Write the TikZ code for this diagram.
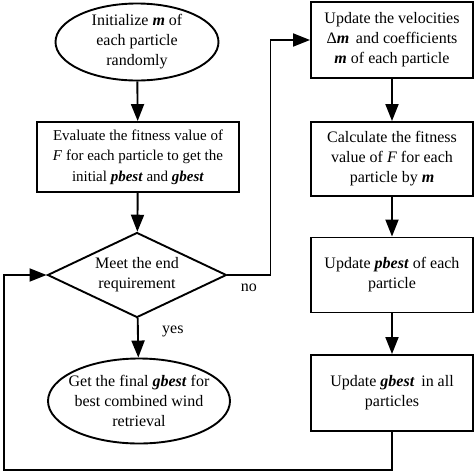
\documentclass[tikz,border=0pt]{standalone}
\usepackage{fontspec}
\setmainfont{Liberation Serif}
\usetikzlibrary{shapes.geometric,arrows.meta}
\newcommand{\bi}[1]{\textbf{\textit{#1}}}
\tikzset{
  base/.style={draw, line width=1.9pt, align=center, font=\fontsize{16}{20}\selectfont},
  proc/.style={base, rectangle, inner sep=0pt},
  oval/.style={base, ellipse, inner sep=-13pt},
  test/.style={base, diamond, aspect=2.1, inner sep=0pt},
  arr/.style={line width=1.9pt, -{Triangle[length=17pt,width=13pt]}},
  lbl/.style={font=\fontsize{16}{20}\selectfont}
}
\begin{document}
\begin{tikzpicture}[x=1pt,y=-1pt]
\useasboundingbox (0,0) rectangle (474,472);
\node[oval, minimum width=163pt, minimum height=77pt] (init) at (137,42) {Initialize \bi{m} of\\each particle\\randomly};
\node[proc, minimum width=202pt, minimum height=70pt, font=\fontsize{15}{20.5}\selectfont] (eval) at (138,157) {Evaluate the fitness value of\\\textit{F} for each particle to get the\\initial \bi{pbest} and \bi{gbest}};
\node[test, minimum width=179pt, minimum height=85pt] (meet) at (137,275) {Meet the end\\requirement};
\node[oval, minimum width=182pt, minimum height=85pt] (final) at (139,401) {Get the final \bi{gbest} for\\best combined wind\\retrieval};
\node[proc, minimum width=162pt, minimum height=76pt] (velo) at (392,40) {Update the velocities\\Δ\bi{m}\, and coefficients\\\bi{m} of each particle};
\node[proc, minimum width=162pt, minimum height=74pt] (calc) at (392,159) {Calculate the fitness\\value of \textit{F} for each\\particle by \bi{m}};
\node[proc, minimum width=162pt, minimum height=75pt] (pbest) at (392,275) {Update \bi{pbest} of each\\particle};
\node[proc, minimum width=162pt, minimum height=76pt] (gbest) at (392,393) {Update \bi{gbest}\, in all\\particles};
% left column
\draw[arr] (init) -- (eval);
\draw[arr] (eval) -- (meet);
\draw[arr] (meet) -- node[right,pos=0.35,xshift=20pt,lbl] {yes} (final);
% no branch
\draw[arr] (meet.east) -- node[below,yshift=-5pt,lbl] {no} ++(43,0) coordinate (no-turn) |- (velo.west);
% right column
\draw[arr] (velo) -- (calc);
\draw[arr] (calc) -- (pbest);
\draw[arr] (pbest) -- (gbest);
% loop back
\coordinate (back-corner) at (4,470);
\draw[arr] (gbest.south) |- (back-corner) |- (meet.west);
\end{tikzpicture}
\end{document}
